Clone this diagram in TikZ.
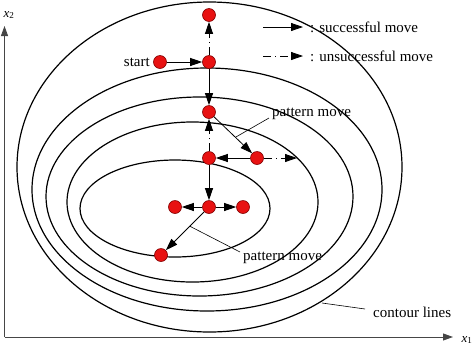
\documentclass[tikz,border=0pt]{standalone}
\usepackage{fontspec}
\setmainfont{Liberation Serif}
\usetikzlibrary{arrows.meta,calc}
\definecolor{nodered}{RGB}{232,18,18}
\definecolor{nodeedge}{RGB}{130,0,0}
\definecolor{axisgray}{RGB}{70,70,70}
\begin{document}
\begin{tikzpicture}[x=1pt,y=-1pt,
  pt/.style={circle,minimum size=13pt,inner sep=0pt,fill=nodered,draw=nodeedge,line width=0.6pt},
  contour/.style={line width=1.2pt},
  succ/.style={line width=0.8pt,-{Triangle[length=12pt,width=8pt]}},
  unsucc/.style={succ,dash pattern=on 8pt off 4pt on 1pt off 4pt},
  lab/.style={font=\fontsize{15}{18}\selectfont,inner sep=0pt},
  axlab/.style={font=\fontsize{13}{15}\selectfont,inner sep=0pt},
  leader/.style={line width=0.6pt},
  axis/.style={line width=0.9pt,draw=axisgray,-{Triangle[length=10pt,width=7pt]}}]
\useasboundingbox (0,0) rectangle (474,349);
% contour ellipses
\draw[contour] (209.5,167) ellipse [x radius=192.5pt, y radius=165pt];
\draw[contour] (207,189.5) ellipse [x radius=175pt, y radius=121.5pt];
\draw[contour] (199.5,196.5) ellipse [x radius=153.5pt, y radius=99.5pt];
\draw[contour] (192.5,202) ellipse [x radius=125.5pt, y radius=80pt];
\draw[contour] (175,208.5) ellipse [x radius=95pt, y radius=48.5pt];
% axes
\coordinate (O) at (4.5,337);
\coordinate (Xend) at (453,337);
\coordinate (Yend) at (4.5,26);
\draw[axis] (O) -- (Xend);
\draw[axis] (O) -- (Yend);
\node[axlab] (x1) at (467,340) {\textit{x}\textsubscript{1}};
\node[axlab] (x2) at (9,15) {\textit{x}\textsubscript{2}};
% points
\node[pt] (A) at (209,15) {};
\node[pt] (S) at (160,62) {};
\node[pt] (B) at (209,62) {};
\node[pt] (C) at (209,112) {};
\node[pt] (D) at (257,158) {};
\node[pt] (E) at (209,158) {};
\node[pt] (F) at (209,207) {};
\node[pt] (G) at (175,207) {};
\node[pt] (H) at (243,207) {};
\node[pt] (I) at (161,255) {};
\coordinate (Dr) at (297,158);
% moves
\draw[succ] (S) -- (B);
\draw[unsucc] (B) -- (A);
\draw[succ] (B) -- (C);
\draw[succ] (C) -- (D);
\draw[succ] (D) -- (E);
\draw[unsucc] (E) -- (C);
\draw[unsucc] (D) -- (Dr);
\draw[succ] (E) -- (F);
\draw[succ] (F) -- (G);
\draw[succ] (F) -- (H);
\draw[succ] (F) -- (I);
% labels
\node[lab,anchor=east] (startlab) at (150,62) {start};
\node[lab,anchor=west] (pm1) at (272,114) {pattern move};
\node[lab,anchor=west] (pm2) at (243,258) {pattern move};
\node[lab,anchor=west] (cl) at (373,312) {contour lines};
\coordinate (pm1a) at ($(C)!0.55!(D)$);
\coordinate (pm1b) at (269,118);
\draw[leader] (pm1a) -- (pm1b);
\coordinate (pm2a) at ($(F)!0.4!(I)$);
\coordinate (pm2b) at (240,252);
\draw[leader] (pm2a) -- (pm2b);
\coordinate (cla) at (322,303);
\coordinate (clb) at (365,309);
\draw[leader] (cla) -- (clb);
% legend
\coordinate (L1a) at (263,27);
\coordinate (L1b) at (303,27);
\coordinate (L2a) at (263,56);
\coordinate (L2b) at (303,56);
\draw[succ] (L1a) -- (L1b);
\draw[unsucc] (L2a) -- (L2b);
\node[lab,anchor=west] (leg1) at (310,27) {: successful move};
\node[lab,anchor=west] (leg2) at (310,56) {: unsuccessful move};
\end{tikzpicture}
\end{document}
